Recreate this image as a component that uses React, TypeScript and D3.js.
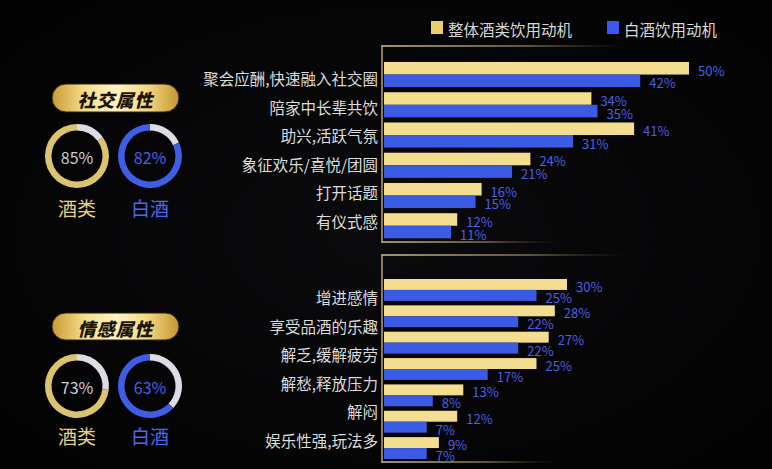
import React from "react";
import * as d3 from "d3";

// legend
const seriesNames = ["整体酒类饮用动机", "白酒饮用动机"];

// 社交属性
const socialCats = ["聚会应酬,快速融入社交圈", "陪家中长辈共饮", "助兴,活跃气氛", "象征欢乐/喜悦/团圆", "打开话题", "有仪式感"];
const socialAll = [50, 34, 41, 24, 16, 12];
const socialBaijiu = [42, 35, 31, 21, 15, 11];
const socialDonut = [85, 82];

// 情感属性
const emotionCats = ["增进感情", "享受品酒的乐趣", "解乏,缓解疲劳", "解愁,释放压力", "解闷", "娱乐性强,玩法多"];
const emotionAll = [30, 28, 27, 25, 13, 12, 9];
const emotionBaijiu = [25, 22, 22, 17, 8, 7, 7];
const emotionDonut = [73, 63];

const donutNames = ["酒类", "白酒"];

const W = 772;
const H = 469;
const YELLOW = "#f3dd8e";
const BLUE = "#3c5be4";
const LABEL_BLUE = "#4a5fe6";
const FONT = "'Noto Sans CJK SC', 'Noto Sans', sans-serif";

const x = d3.scaleLinear().domain([0, 50]).range([384, 689]);

function Panel(props: {
  cats: string[];
  all: number[];
  baijiu: number[];
  barRange: [number, number];
  labelRange: [number, number];
  frame: [number, number];
  id: string;
}) {
  const { cats, all, baijiu, barRange, labelRange, frame, id } = props;
  const idx = all.map((_, i) => i);
  const y = d3.scaleBand<number>().domain(idx).range(barRange).paddingInner(0.17).paddingOuter(0);
  const inner = d3.scaleBand<string>().domain(["all", "baijiu"]).range([0, y.bandwidth()]);
  const ly = d3.scalePoint<string>().domain(cats).range(labelRange);
  const bw = inner.bandwidth();
  return (
    <g>
      <defs>
        <linearGradient id={"fr" + id} x1="0" x2="1" y1="0" y2="0">
          <stop offset="0" stopColor="#a39469" />
          <stop offset="0.6" stopColor="#5e5640" />
          <stop offset="1" stopColor="#3a3526" stopOpacity="0" />
        </linearGradient>
      </defs>
      <rect x={381} y={frame[0]} width={2} height={frame[1] - frame[0]} fill="#8a7d58" />
      <rect x={381} y={frame[0]} width={245} height={2} fill={`url(#fr${id})`} />
      <rect x={381} y={frame[1] - 2} width={175} height={2} fill={`url(#fr${id})`} />
      {cats.map((c) => (
        <text
          key={c}
          x={378}
          y={ly(c)}
          textAnchor="end"
          dominantBaseline="central"
          fill="#dcdcdc"
          fontSize={15.5}
          fontFamily={FONT}
        >
          {c}
        </text>
      ))}
      {idx.map((i) => {
        const y0 = y(i) as number;
        const ya = y0 + (inner("all") as number);
        const yb = y0 + (inner("baijiu") as number);
        return (
          <g key={i}>
            <rect x={x(0)} y={ya} width={x(all[i]) - x(0)} height={bw} fill={YELLOW} />
            <rect x={x(0)} y={yb} width={x(baijiu[i]) - x(0)} height={bw} fill={BLUE} />
            <text x={x(all[i]) + 9} y={ya + bw / 2 + 2} dominantBaseline="central" fill={LABEL_BLUE} fontSize={13} fontFamily={FONT}>
              {all[i]}%
            </text>
            <text x={x(baijiu[i]) + 9} y={yb + bw / 2 + 2} dominantBaseline="central" fill={LABEL_BLUE} fontSize={13} fontFamily={FONT}>
              {baijiu[i]}%
            </text>
          </g>
        );
      })}
    </g>
  );
}

function Badge(props: { label: string; y: number; h: number }) {
  const { label, y, h } = props;
  return (
    <g>
      <rect x={52} y={y} width={127} height={h} rx={h / 2} fill="url(#badge)" stroke="#2a2210" strokeWidth={1} />
      <text
        x={115.5}
        y={y + h / 2 + 1}
        textAnchor="middle"
        dominantBaseline="central"
        fill="#1c1507"
        fontSize={18}
        fontWeight={900}
        fontStyle="italic"
        letterSpacing={1}
        fontFamily={FONT}
      >
        {label}
      </text>
    </g>
  );
}

function Donuts(props: { values: number[]; cy: number; labelY: number }) {
  const { values, cy, labelY } = props;
  const cx = d3.scalePoint<string>().domain(donutNames).range([77, 150]);
  const arc = d3.arc<{ a0: number; a1: number }>()
    .innerRadius(25.5)
    .outerRadius(32)
    .startAngle((d) => d.a0)
    .endAngle((d) => d.a1);
  const ang = d3.scaleLinear().domain([0, 100]).range([0, 2 * Math.PI]);
  return (
    <g>
      {values.map((v, i) => {
        const name = donutNames[i];
        const col = i === 0 ? "#dcc46f" : "#3f5ee6";
        const rest = 100 - v;
        return (
          <g key={name} transform={`translate(${cx(name)},${cy})`}>
            <path d={arc({ a0: 0, a1: ang(rest) }) || ""} fill="#dcdce4" />
            <path d={arc({ a0: ang(rest), a1: ang(100) }) || ""} fill={col} />
            <text
              y={1}
              textAnchor="middle"
              dominantBaseline="central"
              fill={i === 0 ? "#c9ccd8" : LABEL_BLUE}
              fontSize={16}
              fontFamily={FONT}
            >
              {v}%
            </text>
            <text
              y={labelY - cy}
              textAnchor="middle"
              dominantBaseline="central"
              fill={i === 0 ? "#e6d08a" : "#4d66ea"}
              fontSize={19}
              fontFamily={FONT}
            >
              {name}
            </text>
          </g>
        );
      })}
    </g>
  );
}

export default function App() {
  const legendX = [431, 607];
  const legendCol = ["#e8cf6c", "#3c56f0"];
  return (
    <svg width={W} height={H} style={{ position: "absolute", left: 0, top: 0, background: "#040405" }}>
      <defs>
        <linearGradient id="badge" x1="0" x2="1" y1="0" y2="0">
          <stop offset="0" stopColor="#c99a32" />
          <stop offset="0.25" stopColor="#f5dc8a" />
          <stop offset="0.5" stopColor="#fff3c4" />
          <stop offset="0.75" stopColor="#f3d985" />
          <stop offset="1" stopColor="#c4952e" />
        </linearGradient>
        <radialGradient id="bg" cx="0.5" cy="0.5" r="0.7">
          <stop offset="0" stopColor="#0b0b0d" />
          <stop offset="1" stopColor="#020203" />
        </radialGradient>
      </defs>
      <rect width={W} height={H} fill="url(#bg)" />

      {seriesNames.map((s, i) => (
        <g key={s}>
          <rect x={legendX[i]} y={21} width={12} height={13} fill={legendCol[i]} />
          <text x={legendX[i] + 17} y={28.5} dominantBaseline="central" fill="#d8d8d8" fontSize={15.5} fontFamily={FONT}>
            {s}
          </text>
        </g>
      ))}

      <Panel id="a" cats={socialCats} all={socialAll} baijiu={socialBaijiu} barRange={[62, 238.3]} labelRange={[78, 221]} frame={[45, 243]} />
      <Panel id="b" cats={emotionCats} all={emotionAll} baijiu={emotionBaijiu} barRange={[279, 459]} labelRange={[297, 440]} frame={[254, 463]} />

      <Badge label="社交属性" y={84} h={28} />
      <Donuts values={socialDonut} cy={156} labelY={207} />
      <Badge label="情感属性" y={313} h={27} />
      <Donuts values={emotionDonut} cy={386} labelY={435} />
    </svg>
  );
}
